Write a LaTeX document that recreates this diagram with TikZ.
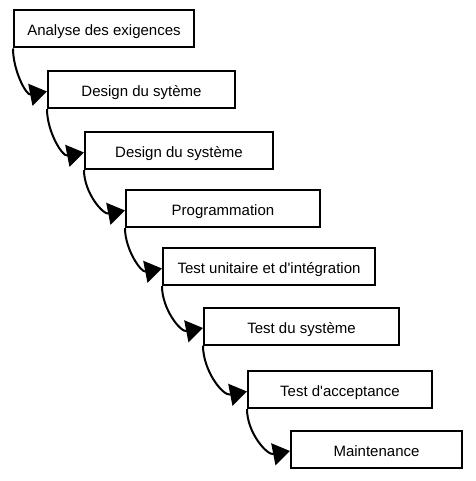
\documentclass[tikz,border=0pt]{standalone}
\usepackage{fontspec}
\setmainfont{Liberation Sans}
\usetikzlibrary{arrows.meta}
\tikzstyle{phase}=[rectangle, draw, line width=2pt, minimum height=37pt, inner sep=0pt, text height=14pt, text depth=0pt, font=\fontsize{15}{18}\selectfont]
\tikzstyle{flow}=[line width=2pt, -{Triangle[length=17pt, width=22pt]}]

\begin{document}
\begin{tikzpicture}[x=1pt, y=1pt]
    \useasboundingbox (0,0) rectangle (475,-481);
    \node[phase, minimum width=180pt] (1) at (104, -29) {Analyse des exigences};
    \node[phase, minimum width=187pt] (2) at (141.5, -89.5) {Design du sytème};
    \node[phase, minimum width=188pt] (3) at (179, -150.5) {Design du système};
    \node[phase, minimum width=194pt] (4) at (223, -208.5) {Programmation};
    \node[phase, minimum width=212pt] (5) at (269, -266.5) {Test unitaire et d\textquotesingle{}intégration};
    \node[phase, minimum width=195pt] (6) at (301.5, -326) {Test du système};
    \node[phase, minimum width=184pt] (7) at (340, -389.5) {Test d\textquotesingle{}acceptance};
    \node[phase, minimum width=171pt] (8) at (376.5, -449) {Maintenance};
    \draw[flow] (1.south west) to[out=-90, in=191] ([yshift=-2pt]2.west);
    \draw[flow] (2.south west) to[out=-90, in=191] ([yshift=-2pt]3.west);
    \draw[flow] (3.south west) to[out=-90, in=191] ([yshift=-2pt]4.west);
    \draw[flow] (4.south west) to[out=-90, in=191] ([yshift=-2pt]5.west);
    \draw[flow] (5.south west) to[out=-90, in=191] ([yshift=-2pt]6.west);
    \draw[flow] (6.south west) to[out=-90, in=191] ([yshift=-2pt]7.west);
    \draw[flow] (7.south west) to[out=-90, in=191] ([yshift=-2pt]8.west);
\end{tikzpicture}
\end{document}
